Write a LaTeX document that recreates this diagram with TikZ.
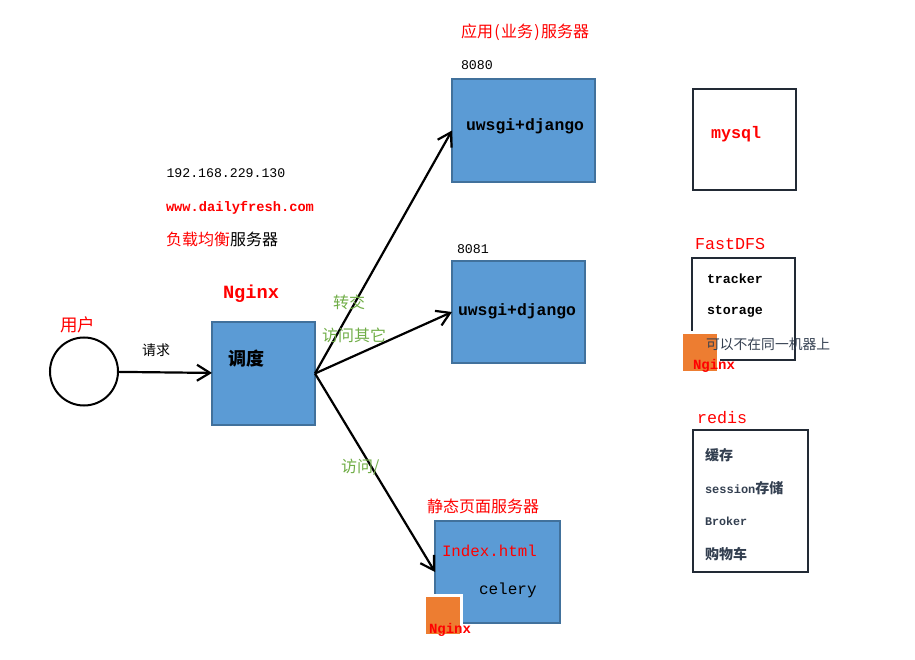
\documentclass[tikz,border=0pt]{standalone}
\usepackage{fontspec}
\usepackage{tikz}
\usetikzlibrary{arrows.meta}
\setmonofont{Liberation Mono}
\newfontfamily\cjkfont{Noto Sans CJK SC}
\newcommand*{\xMax}{915}
\newcommand*{\yMax}{660}
\newcommand*{\sz}[1]{\fontsize{#1}{#1}\selectfont}
\definecolor{boxblue}{HTML}{5B9BD5}
\definecolor{boxedge}{HTML}{41719C}
\definecolor{boxorange}{HTML}{ED7D31}
\definecolor{boxdark}{HTML}{222A35}
\definecolor{textdark}{HTML}{333F50}
\definecolor{textgreen}{HTML}{70AD47}
\tikzset{
	server/.style={draw=boxedge,fill=boxblue,line width=2pt,inner sep=0pt,outer sep=0pt},
	store/.style={draw=boxdark,line width=2pt,inner sep=0pt,outer sep=0pt},
	tag/.style={fill=boxorange,draw=white,line width=3pt,inner sep=0pt,outer sep=0pt},
	txt/.style={anchor=west,inner sep=0pt,outer sep=0pt},
	redtxt/.style={txt,text=red},
	flow/.style={-{Straight Barb[length=13pt,width=16pt,line width=2.2pt]},line width=2.2pt,black}
}

\begin{document}
\begin{tikzpicture}[x=1pt,y=-1pt]
	\useasboundingbox (0,0) rectangle (\xMax,\yMax);

	\node [circle,draw,line width=2pt,minimum size=68pt,inner sep=0pt,outer sep=0pt] (user) at (84,371.5) {};
	\node [server,minimum width=103pt,minimum height=103pt] (lb) at (263.5,373.5) {};
	\node [server,minimum width=143pt,minimum height=103pt] (appA) at (523.5,130.5) {};
	\node [server,minimum width=133pt,minimum height=102pt] (appB) at (518.5,312) {};
	\node [server,minimum width=125pt,minimum height=102pt] (static) at (497.5,572) {};

	\draw [flow] (user) -- (lb);
	\draw [flow] (lb.east) -- (appA.west);
	\draw [flow] (lb.east) -- (appB.west);
	\draw [flow] (lb.east) -- (static.west);

	\node [store,minimum width=103pt,minimum height=101pt] (mysql) at (744.5,139.5) {};
	\node [store,minimum width=103pt,minimum height=102pt] (fdfs) at (743.5,309) {};
	\node [store,minimum width=115pt,minimum height=142pt] (redis) at (750.5,501) {};

	\node [tag,minimum width=37pt,minimum height=40pt] (tagA) at (700,352.5) {};
	\node [tag,minimum width=37pt,minimum height=40pt] (tagB) at (443,615.5) {};

	\node [txt,font=\cjkfont\sz{16}] (balance) at (166,239.5) {\textcolor{red}{负载均衡}服务器};
	\node [txt,font=\ttfamily\sz{13.2}] (ip) at (166.5,173.5) {192.168.229.130};
	\node [redtxt,font=\ttfamily\bfseries\sz{13.7}] (www) at (166,207.5) {www.dailyfresh.com};
	\node [redtxt,font=\ttfamily\bfseries\sz{18.7}] (nginx) at (223,293.5) {Nginx};
	\node [redtxt,font=\cjkfont\sz{17.5}] (userlabel) at (60,324.5) {用户};
	\node [txt,font=\cjkfont\sz{14}] (req) at (142,350) {请求};
	\node [txt,font=\cjkfont\bfseries\sz{18}] (sched) at (228,358.5) {调度};
	\node [txt,text=textgreen,font=\cjkfont\sz{16}] (fwd) at (333,302) {转交};
	\node [txt,text=textgreen,font=\cjkfont\sz{16}] (other) at (322,335) {访问其它};
	\node [txt,text=textgreen,font=\cjkfont\sz{16}] (visit) at (341,467.5) {访问/};

	\node [redtxt,font=\cjkfont\sz{16}] (apptitle) at (461,32) {应用\makebox[8pt]{(}业务\makebox[8pt]{)}服务器};
	\node [txt,font=\ttfamily\sz{13.3}] (portA) at (461,65.5) {8080};
	\node [txt,font=\ttfamily\bfseries\sz{16.4}] (djangoA) at (466,126) {uwsgi+django};
	\node [txt,font=\ttfamily\sz{13.3}] (portB) at (457,249.5) {8081};
	\node [txt,font=\ttfamily\bfseries\sz{16.4}] (djangoB) at (458,311) {uwsgi+django};
	\node [redtxt,font=\cjkfont\sz{16}] (stitle) at (427,506) {静态页面服务器};
	\node [redtxt,font=\ttfamily\sz{15.8}] (index) at (442,551) {Index.html};
	\node [txt,font=\ttfamily\sz{16}] (celery) at (479,590.5) {celery};
	\node [redtxt,font=\ttfamily\bfseries\sz{14}] (ngB) at (429,630) {Nginx};

	\node [redtxt,font=\ttfamily\bfseries\sz{16.7}] (mysqllabel) at (711,134) {mysql};
	\node [redtxt,font=\ttfamily\sz{16.7}] (fdfslabel) at (695,243.5) {FastDFS};
	\node [txt,font=\ttfamily\bfseries\sz{13.3}] (tracker) at (707,278.5) {tracker};
	\node [txt,font=\ttfamily\bfseries\sz{13.3}] (storage) at (707,311.5) {storage};
	\node [txt,text=textdark,font=\cjkfont\sz{13.8}] (nosame) at (706,344.5) {可以不在同一机器上};
	\node [redtxt,font=\ttfamily\bfseries\sz{14}] (ngA) at (693,365.5) {Nginx};

	\node [redtxt,font=\ttfamily\sz{16.7}] (redislabel) at (697,418) {redis};
	\node [txt,text=textdark,font=\cjkfont\bfseries\sz{14}] (cache) at (705,455) {缓存};
	\node [txt,text=textdark,font=\cjkfont\bfseries\sz{14}] (session) at (705,488) {{\ttfamily\sz{12}session}存储};
	\node [txt,text=textdark,font=\ttfamily\bfseries\sz{11.7}] (broker) at (705,521.5) {Broker};
	\node [txt,text=textdark,font=\cjkfont\bfseries\sz{14}] (cart) at (705,554) {购物车};
\end{tikzpicture}
\end{document}
